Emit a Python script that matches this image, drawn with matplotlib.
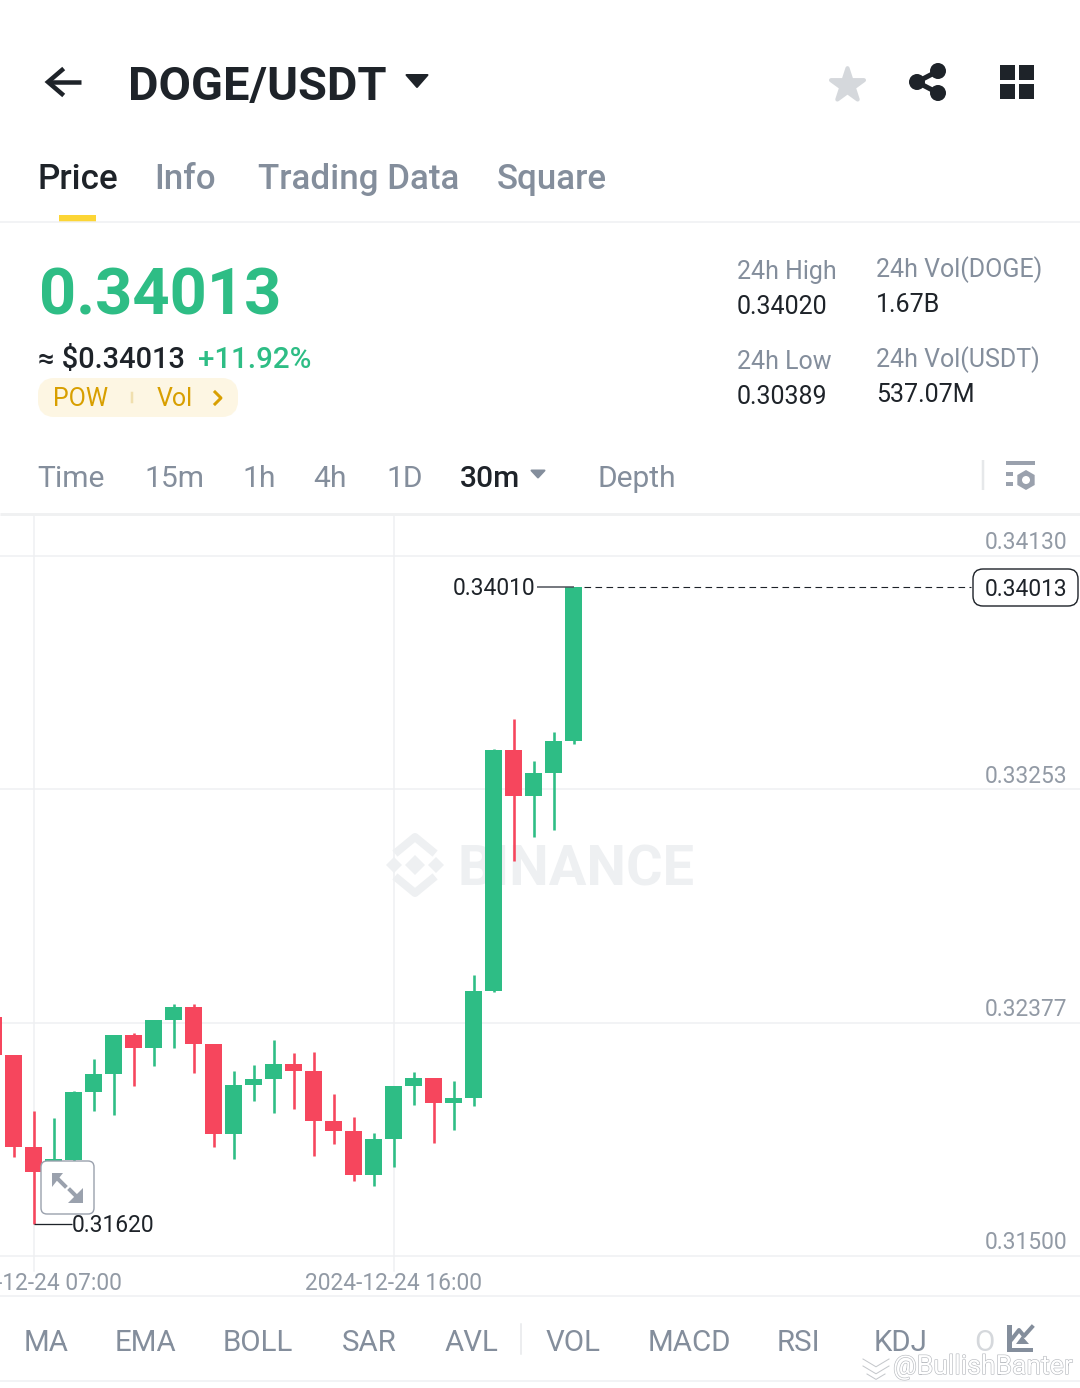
import matplotlib
matplotlib.use('Agg')
import matplotlib.pyplot as plt
import matplotlib.patheffects as pe
from matplotlib.patches import Circle, FancyBboxPatch, Polygon, Rectangle, RegularPolygon

plt.rcParams['font.family'] = ['Roboto', 'DejaVu Sans']

# 30m candles, oldest first
opens = [.32398, .32255, .31910, .31853, .31861, .32116, .32184, .32330, .32281, .32387,
         .32435, .32296, .31958, .32142, .32165, .32221, .32195, .32007, .31970, .31804,
         .31940, .32139, .32169, .32075, .32094, .32496, .33401, .33228, .33315, .33435]
closes = [.32255, .31910, .31816, .31864, .32116, .32184, .32330, .32281, .32387, .32435,
          .32296, .31958, .32142, .32165, .32221, .32195, .32007, .31970, .31804, .31940,
          .32139, .32169, .32075, .32094, .32496, .33401, .33228, .33315, .33435, .34013]
highs = [.32398, .32255, .32045, .32018, .32120, .32240, .32330, .32338, .32387, .32447,
         .32447, .32296, .32195, .32218, .32312, .32263, .32266, .32109, .32022, .31962,
         .32139, .32191, .32169, .32157, .32556, .33405, .33518, .33360, .33469, .34013]
lows = [.32255, .31872, .31620, .31831, .31850, .32045, .32030, .32139, .32214, .32281,
        .32188, .31910, .31864, .32082, .32037, .32052, .31876, .31921, .31782, .31763,
        .31834, .32067, .31925, .31973, .32064, .32492, .32984, .33074, .33100, .33424]

price_ticks = [0.34130, 0.33253, 0.32377, 0.31500]
time_ticks = [2, 20]
time_labels = ['2024-12-24 07:00', '2024-12-24 16:00']
last_price = 0.34013
high_label = '0.34010'
low_label = '0.31620'

GREEN = '#2ebd85'
RED = '#f6465d'
DARK = '#1e2329'
GREY = '#848e9c'
AXIS_GREY = '#929aa5'
LINE = '#eff0f2'

W, H = 1080, 1388
PX = 72 / 100  # one pixel in points


def fs(px):
    return px * PX


fig = plt.figure(figsize=(W / 100, H / 100), dpi=100, facecolor='white')

# chart area, pixel rows 515 to 1296
top, bottom = 515, 1296
ax = fig.add_axes([0, 1 - bottom / H, 1, (bottom - top) / H])
per_px = (0.34130 - 0.31500) / 700
ax.set_ylim(0.31500 - (bottom - 1256) * per_px, 0.34130 + (556 - top) * per_px)
ax.set_xlim(6.5 / 20, 1086.5 / 20)
ax.axis('off')

for p in price_ticks:
    ax.axhline(p, color=LINE, lw=1.5 * PX, zorder=1)
    ax.annotate(f'{p:.5f}', (1067, p), xycoords=('figure pixels', 'data'), xytext=(0, 4.7),
                textcoords='offset points', ha='right', va='baseline',
                fontsize=fs(22.7), color=AXIS_GREY, zorder=6)
for t, lab in zip(time_ticks, time_labels):
    ax.axvline(t, ymin=25 / (bottom - top), color=LINE, lw=1.5 * PX, zorder=1)
    ax.annotate(lab, (t, 0), xycoords=('data', 'axes fraction'), xytext=(0, 4.5),
                textcoords='offset points', ha='center', va='baseline',
                fontsize=fs(22.7), color=AXIS_GREY, zorder=6, annotation_clip=False)

# watermark behind the candles
ax.text(458 / 20 + 6.5 / 20, 0.315 + (1256 - 885) * per_px, 'BINANCE', fontsize=fs(56), fontweight='bold',
        color='#eef0f2', ha='left', va='baseline', zorder=1.5)

for i in range(len(opens)):
    col = GREEN if closes[i] >= opens[i] else RED
    ax.vlines(i, lows[i], highs[i], color=col, lw=2.6 * PX, zorder=3)
    ax.bar(i, abs(closes[i] - opens[i]), bottom=min(opens[i], closes[i]), width=0.88,
           color=col, linewidth=0, zorder=4)

# last price line and high / low markers
n = len(opens) - 1
ax.hlines(last_price, n + 0.5, 48.85, color=DARK, lw=1.1 * PX, linestyles=(0, (6, 4)), zorder=2)
hi = highs.index(max(highs))
lo = lows.index(min(lows))
ax.hlines(max(highs), hi - 1.85, hi, color='#4a4f57', lw=1.5 * PX, zorder=5)
ax.hlines(min(lows), lo, lo + 1.9, color=DARK, lw=1.3 * PX, zorder=5)
ax.annotate(high_label, (hi - 1.9, max(highs)), textcoords='offset points', xytext=(0, -6),
            ha='right', va='baseline', fontsize=fs(22.7), color=DARK, zorder=7)
ax.annotate(low_label, (lo + 1.9, min(lows)), textcoords='offset points', xytext=(0, -6),
            ha='left', va='baseline', fontsize=fs(22.7), color=DARK, zorder=7)

# everything around the chart, in screenshot pixels
ui = fig.add_axes([0, 0, 1, 1], zorder=5)
ui.set_xlim(0, W)
ui.set_ylim(H, 0)
ui.axis('off')
ui.patch.set_alpha(0)


def label(x, y, s, px=30, color=GREY, weight='normal', ha='left', **kw):
    return ui.text(x, y, s, fontsize=fs(px), color=color, fontweight=weight, ha=ha, va='baseline', **kw)


def rule(y, lw=1.5, color=LINE):
    ui.plot([0, W], [y, y], color=color, lw=lw * PX, solid_capstyle='butt')


def tri(cx, cy, w, h, color):
    ui.add_patch(Polygon([(cx - w / 2, cy - h / 2), (cx + w / 2, cy - h / 2), (cx, cy + h / 2)],
                         closed=True, fc=color, ec=color, lw=2 * PX, joinstyle='round'))


# header
ui.plot([48, 81], [82, 82], color=DARK, lw=4.5 * PX, solid_capstyle='butt')
ui.plot([62, 48, 62], [70, 82, 94], color=DARK, lw=4.5 * PX, solid_joinstyle='miter')
label(128, 100, 'DOGE/USDT', px=47, color=DARK, weight='bold')
tri(417, 81, 21, 12, DARK)
ui.scatter([847], [85], marker='*', s=620, color='#d5d8dc', linewidths=3, edgecolors='#d5d8dc')
for a, b in [((938, 71), (917, 82)), ((917, 82), (938, 93))]:
    ui.plot([a[0], b[0]], [a[1], b[1]], color=DARK, lw=5 * PX)
for c in [(938, 71), (917, 82), (938, 93)]:
    ui.add_patch(Circle(c, 8, fc=DARK, ec='none'))
for x0 in (1000, 1019):
    for y0 in (65, 84):
        ui.add_patch(Rectangle((x0, y0), 15, 15, fc=DARK, ec='none'))

# tabs
label(38, 189, 'Price', px=35, color=DARK, weight='medium')
label(154, 189, 'Info', px=35, weight='medium')
label(258, 189, 'Trading Data', px=35, weight='medium')
label(497, 189, 'Square', px=35, weight='medium')
ui.add_patch(Rectangle((59, 215), 37, 7, fc='#fcd535', ec='none'))
rule(222)

# price block
label(39, 314, '0.34013', px=65, color=GREEN, weight='bold')
label(38, 368, '≈ $0.34013', px=29, color=DARK, weight='medium')
label(198, 368, '+11.92%', px=29.5, color=GREEN, weight='medium')
ui.add_patch(FancyBboxPatch((46, 386), 184, 23, boxstyle='round,pad=0,rounding_size=8', mutation_aspect=1,
                            fc='#fdf6e3', ec='#fdf6e3', lw=16 * PX))
label(53, 406, 'POW', px=25, color='#d89f00')
label(157, 406, 'Vol', px=25, color='#d89f00')
ui.plot([132, 132], [393, 402], color='#f0dfae', lw=2.5 * PX)
ui.plot([215, 221, 215], [392, 398, 404], color='#d89f00', lw=3 * PX)

# 24h stats
label(737, 279, '24h High', px=25)
label(737, 314, '0.34020', px=25, color=DARK)
label(876, 277, '24h Vol(DOGE)', px=25)
label(876, 312, '1.67B', px=25, color=DARK)
label(737, 369, '24h Low', px=25)
label(737, 404, '0.30389', px=25, color=DARK)
label(876, 367, '24h Vol(USDT)', px=25)
label(876, 402, '537.07M', px=25, color=DARK)

# interval row
for x, s in [(37, 'Time'), (144, '15m'), (242, '1h'), (313, '4h'), (386, '1D'), (598, 'Depth')]:
    label(x, 487, s, px=30)
label(460, 487, '30m', px=30, color=DARK, weight='medium')
tri(538, 474, 13, 7, GREY)
ui.plot([983, 983], [460, 490], color='#e6e8ea', lw=2.5 * PX, solid_capstyle='butt')
ui.add_patch(Rectangle((1006, 461), 29, 4, fc='#9aa1ad', ec='none'))
ui.add_patch(Rectangle((1006, 472), 7, 4, fc='#9aa1ad', ec='none'))
ui.add_patch(Rectangle((1006, 482), 7, 4, fc='#9aa1ad', ec='none'))
ui.add_patch(RegularPolygon((1026, 480), 6, radius=10, fc='#9aa1ad', ec='none'))
ui.add_patch(Circle((1026, 480), 4, fc='white', ec='none'))
rule(514, lw=3, color='#f0f1f2')

# last price tag
ui.add_patch(FancyBboxPatch((973, 569), 105, 37, boxstyle='round,pad=0,rounding_size=10',
                            fc='white', ec=DARK, lw=1.4 * PX))
label(1067, 596, '0.34013', px=22.7, color=DARK, ha='right')

# watermark logo
c = (415, 865)
for dx, dy, r in [(0, 0, 10), (-21, 0, 8), (21, 0, 8)]:
    ui.add_patch(RegularPolygon((c[0] + dx, c[1] + dy), 4, radius=r, fc='#eef0f2', ec='none', zorder=0))
for s in (-1, 1):
    ui.plot([c[0] - 17, c[0], c[0] + 17], [c[1] + s * 14, c[1] + s * 28, c[1] + s * 14],
            color='#eef0f2', lw=8 * PX, zorder=0)

# expand button
ui.add_patch(FancyBboxPatch((41, 1161), 53, 53, boxstyle='round,pad=0,rounding_size=6',
                            fc='white', ec='#9aa1ad', lw=1.4 * PX))
ui.add_patch(Polygon([(52, 1173), (63, 1173), (52, 1187)], fc='#9aa1ad', ec='none'))
ui.add_patch(Polygon([(83, 1203), (68, 1203), (83, 1188)], fc='#9aa1ad', ec='none'))
ui.plot([56, 65], [1177, 1186], color='#9aa1ad', lw=4 * PX)
ui.plot([70, 79], [1190, 1199], color='#9aa1ad', lw=4 * PX)

# indicator row
rule(1296)
rule(1381)
for x, s in [(24, 'MA'), (115, 'EMA'), (223, 'BOLL'), (342, 'SAR'), (445, 'AVL'), (546, 'VOL'),
             (648, 'MACD'), (777, 'RSI'), (874, 'KDJ')]:
    label(x, 1351, s, px=29.5)
label(974, 1351, 'O', px=29.5, color='#d5d8dc')
ui.plot([521, 521], [1324, 1354], color='#e6e8ea', lw=1.5 * PX)
ui.add_patch(Rectangle((1007, 1325), 5, 27, fc=GREY, ec='none'))
ui.add_patch(Rectangle((1007, 1348), 26, 4, fc=GREY, ec='none'))
ui.plot([1012, 1019, 1024, 1032], [1339, 1330, 1336, 1327], color=GREY, lw=4 * PX)
ui.add_patch(Polygon([(1022, 1336), (1029, 1344), (1016, 1344)], fc=GREY, ec='none'))

# screenshot watermark
label(893, 1374, '@BullishBanter', px=26.5, color='white',
      path_effects=[pe.withStroke(linewidth=0.9, foreground='#b8bbc0')])
for dy, hw in [(0, 13), (7, 13), (15, 9)]:
    ui.plot([876 - hw, 876, 876 + hw], [1359 + dy, 1359 + dy + hw * 0.6, 1359 + dy],
            color='#c4c7cb', lw=1 * PX)

fig.savefig('out.png', dpi=100, facecolor='white')
